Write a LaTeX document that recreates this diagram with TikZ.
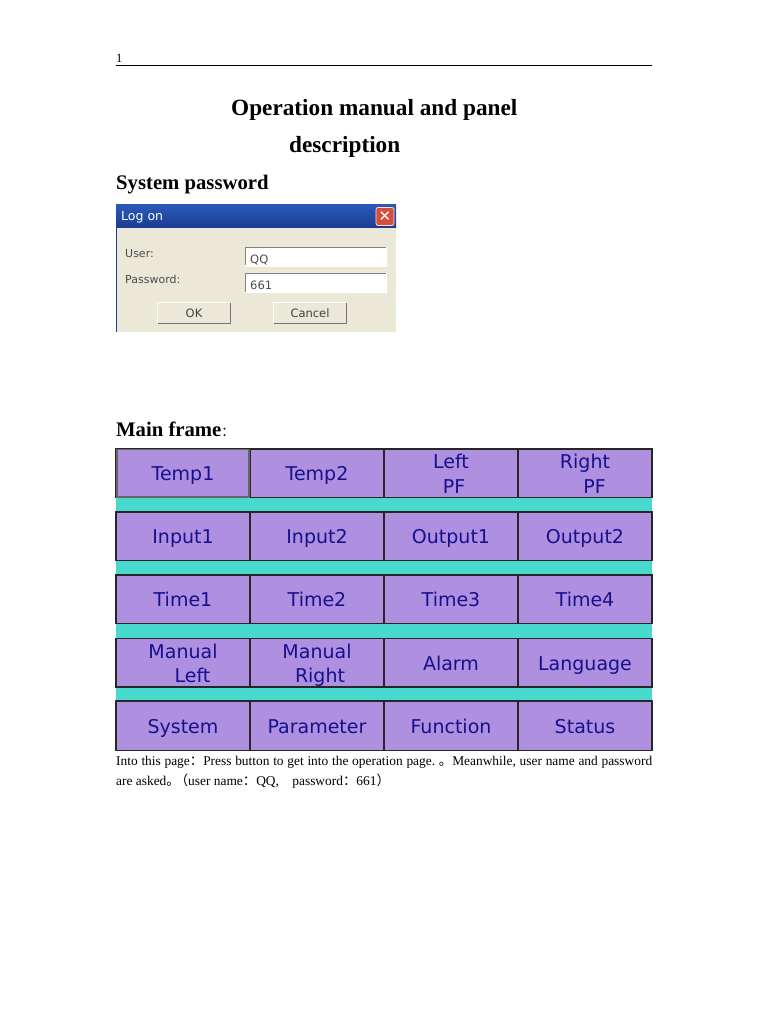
\documentclass[tikz,border=0pt]{standalone}
\usepackage{fontspec}
\setmainfont{Liberation Serif}
\newfontfamily\uifont{DejaVu Sans}
\newfontfamily\cjkfont{Noto Sans CJK SC}
\newcommand{\cj}[1]{{\cjkfont\mdseries #1}}
\definecolor{btn}{HTML}{AE8FE0}
\definecolor{bar}{HTML}{48D8CE}
\definecolor{btxt}{HTML}{16108C}
\definecolor{beige}{HTML}{EBE8D8}
\definecolor{tbA}{HTML}{2A5AB8}
\definecolor{tbB}{HTML}{1C3C90}
\definecolor{xred}{HTML}{D4503C}
\tikzset{
 x=1pt,y=-1pt,
 panelbtn/.style={draw=black!85,line width=1.3pt,fill=btn,text=btxt,font=\uifont\fontsize{19}{24.5}\selectfont,align=center,inner sep=0pt,outer sep=0pt,anchor=north west},
 teal/.style={fill=bar,draw=none},
 heading/.style={anchor=base west,inner sep=0pt,font=\bfseries\fontsize{20.7}{24}\selectfont},
 title/.style={anchor=base west,inner sep=0pt,font=\bfseries\fontsize{23.25}{28}\selectfont},
 uitext/.style={anchor=base west,inner sep=0pt,text=black!70,font=\uifont\fontsize{11}{12}\selectfont},
 field/.style={fill=white,draw=none},
 xpbtn/.style={fill=beige,draw=none,inner sep=0pt,text=black!75,minimum width=72pt,minimum height=20pt,font=\uifont\fontsize{11.5}{13}\selectfont},
}
\newcommand{\pb}[6]{\node[panelbtn,minimum width=#3pt,minimum height=#4pt] (#1) at (#5,#6) {\rule{0pt}{19pt}#2\vphantom{Ay}};}
\newcommand{\raised}[1]{%
 \draw[white,line width=1pt] (#1.south west) |- (#1.north east);
 \draw[black!55,line width=1.2pt] (#1.south west) -| (#1.north east);}
\begin{document}
\begin{tikzpicture}
\useasboundingbox (0,0) rectangle (768,1024);
\fill[white] (0,0) rectangle (768,1024);
% header
\node[anchor=base west,inner sep=0pt,font=\fontsize{12.5}{16}\selectfont] (pagenum) at (116,63) {1};
\coordinate (hl) at (116,66); \coordinate (hr) at (652,66);
\draw[line width=1pt] (hl) -- (hr);
% titles
\node[title] (t1) at (231,115.6) {Operation manual and panel};
\node[title] (t2) at (289,152.6) {description};
\node[heading] (h1) at (116,189.6) {System password};
\node[heading] (h2) at (116,436) {Main frame\cj{\fontsize{13}{13}\selectfont ：}};
% log on dialog
\fill[beige] (116,205) rectangle (396,332);
\shade[top color=tbA,bottom color=tbB] (116,205) rectangle (396,228);
\fill[tbB] (116,228) rectangle (117,332);
\node[anchor=base west,inner sep=0pt,text=white,font=\uifont\fontsize{12.5}{14}\selectfont] (logon) at (121,221) {Log on};
\node[fill=xred,draw=white!85!red,line width=.8pt,rounded corners=2pt,minimum size=18pt,inner sep=0pt,text=white,font=\uifont\bfseries\fontsize{15}{15}\selectfont] (closebtn) at (385,216.5) {✕};
\node[uitext] (ulab) at (125,257) {User:};
\node[uitext] (plab) at (125,283.5) {Password:};
\fill[field] (245,247) rectangle (387,267);
\fill[field] (245,273) rectangle (387,293);
\draw[black!50,line width=1pt] (245.5,265) |- (386,247.5);
\draw[black!50,line width=1pt] (245.5,292) |- (386,273.5);
\node[uitext,font=\uifont\fontsize{11.5}{12}\selectfont] (uval) at (250,263) {QQ};
\node[uitext,font=\uifont\fontsize{11.5}{12}\selectfont] (pval) at (250,289) {661};
\node[xpbtn] (ok) at (194,313) {OK};
\node[xpbtn] (cancel) at (310,313) {Cancel};
\raised{ok}
\raised{cancel}
% teal bars
\fill[teal] (116,497) rectangle (652,512);
\fill[teal] (116,560) rectangle (652,575);
\fill[teal] (116,624) rectangle (652,638);
\fill[teal] (116,687) rectangle (652,701);
% buttons
\pb{a1}{Temp1}{134}{48.5}{116}{449}
\pb{a2}{Temp2}{134}{48.5}{250}{449}
\pb{a3}{Left\\\ PF}{134}{48.5}{384}{449}
\pb{a4}{Right\\\quad PF}{134}{48.5}{518}{449}
\draw[black!60,line width=1.6pt] (117,449.5) rectangle (249,497);
\pb{b1}{Input1}{134}{48.5}{116}{512}
\pb{b2}{Input2}{134}{48.5}{250}{512}
\pb{b3}{Output1}{134}{48.5}{384}{512}
\pb{b4}{Output2}{134}{48.5}{518}{512}
\pb{c1}{Time1}{134}{48.5}{116}{575}
\pb{c2}{Time2}{134}{48.5}{250}{575}
\pb{c3}{Time3}{134}{48.5}{384}{575}
\pb{c4}{Time4}{134}{48.5}{518}{575}
\pb{d1}{Manual\\\quad Left}{134}{48.5}{116}{638.5}
\pb{d2}{Manual\\\ Right}{134}{48.5}{250}{638.5}
\pb{d3}{Alarm}{134}{48.5}{384}{638.5}
\pb{d4}{Language}{134}{48.5}{518}{638.5}
\pb{e1}{System}{134}{49.5}{116}{701}
\pb{e2}{Parameter}{134}{49.5}{250}{701}
\pb{e3}{Function}{134}{49.5}{384}{701}
\pb{e4}{Status}{134}{49.5}{518}{701}
% body text
\node[anchor=base west,inner sep=0pt,text width=536pt,align=justify,font=\fontsize{13.4}{20.5}\selectfont] (body) at (116,765)
 {Into this page\cj{：}Press button to get into the operation page.\ \cj{。}Meanwhile, user name and password\linebreak are asked\cj{。}\hspace{-5pt}\cj{（}user name\cj{：}QQ,\quad password\cj{：}661\cj{）}};
\end{tikzpicture}
\end{document}
